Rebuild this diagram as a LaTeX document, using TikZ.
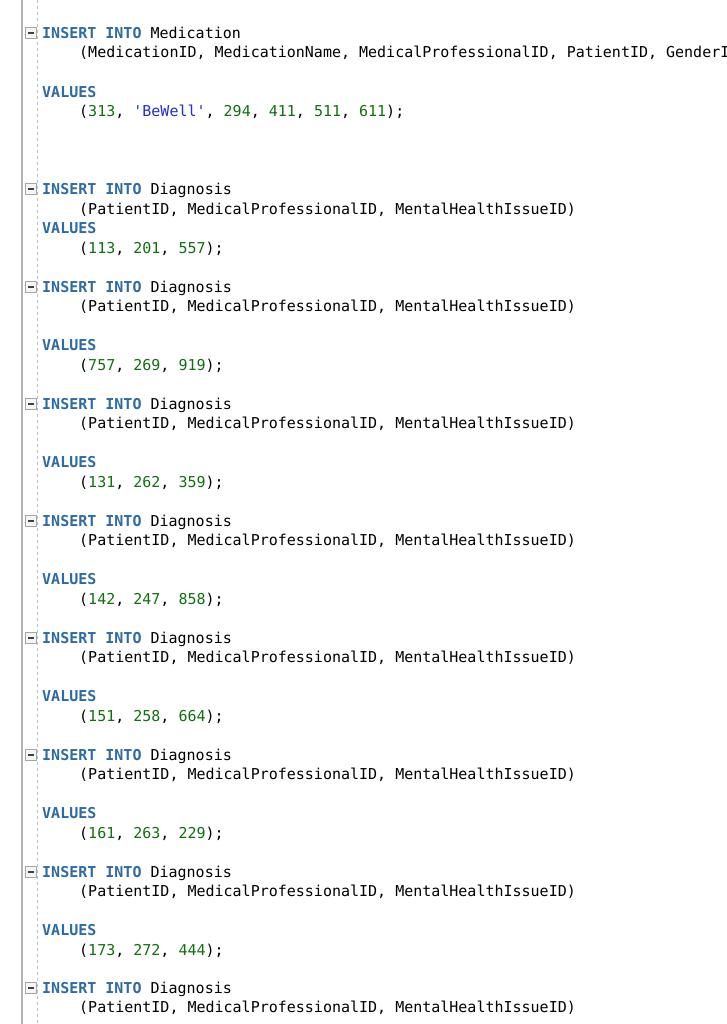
\documentclass[tikz,border=0pt]{standalone}
\usepackage{fontspec}
\setmonofont{DejaVu Sans Mono}
\definecolor{kw}{HTML}{2E6AA3}
\definecolor{num}{HTML}{107010}
\definecolor{str}{HTML}{1F2FD0}
\newcommand{\K}[1]{\textcolor{kw}{\textbf{#1}}}
\newcommand{\N}[1]{\textcolor{num}{#1}}
\newcommand{\Sq}[1]{\textcolor{str}{#1}}
\begin{document}
\begin{tikzpicture}[x=1pt,y=-1pt,
  code/.style={anchor=mid west,inner sep=0pt,yshift=-3pt,font=\fontsize{15}{15}\ttfamily},
  fold/.style={draw=gray!70,fill=gray!8,minimum size=11pt,inner sep=0pt,line width=0.8pt,
    path picture={\draw[black!75,line width=1.2pt] ([xshift=-3pt]path picture bounding box.center)--([xshift=3pt]path picture bounding box.center);}}]
\useasboundingbox (0,0) rectangle (726,1024);
\fill[white] (0,0) rectangle (726,1024);
\draw[gray!60,line width=1.5pt] (22,0)--(22,1024);
\draw[gray!50,dashed,dash pattern=on 3pt off 3pt] (37,0)--(37,1024);
\node[code] (m1) at (42,33) {\K{INSERT INTO} Medication};
\node[fold] (f0) at (31,33) {};
\node[code] (m2) at (79,52) {(MedicationID, MedicationName, MedicalProfessionalID, PatientID, GenderID};
\node[code] (m3) at (42,92) {\K{VALUES}};
\node[code] (m4) at (79,111) {(\N{313}, \Sq{'BeWell'}, \N{294}, \N{411}, \N{511}, \N{611});};
\node[code] (d1a) at (42,189) {\K{INSERT INTO} Diagnosis};
\node[fold] (f1) at (31,189) {};
\node[code] (d1b) at (79,209) {(PatientID, MedicalProfessionalID, MentalHealthIssueID)};
\node[code] (d1c) at (42,228) {\K{VALUES}};
\node[code] (d1d) at (79,248) {(\N{113}, \N{201}, \N{557});};
\foreach \i/\y/\a/\b/\c in {2/287/757/269/919,3/404/131/262/359,4/521/142/247/858,5/638/151/258/664,6/755/161/263/229,7/872/173/272/444}{
  \node[fold] (f\i) at (31,\y) {};
  \node[code] (d\i a) at (42,\y) {\K{INSERT INTO} Diagnosis};
  \node[code] (d\i b) at (79,\y+19.5) {(PatientID, MedicalProfessionalID, MentalHealthIssueID)};
  \node[code] (d\i c) at (42,\y+58.5) {\K{VALUES}};
  \node[code] (d\i d) at (79,\y+78) {(\N{\a}, \N{\b}, \N{\c});};
}
\node[fold] (f8) at (31,988) {};
\node[code] (d8a) at (42,988) {\K{INSERT INTO} Diagnosis};
\node[code] (d8b) at (79,1007.5) {(PatientID, MedicalProfessionalID, MentalHealthIssueID)};
\end{tikzpicture}
\end{document}
